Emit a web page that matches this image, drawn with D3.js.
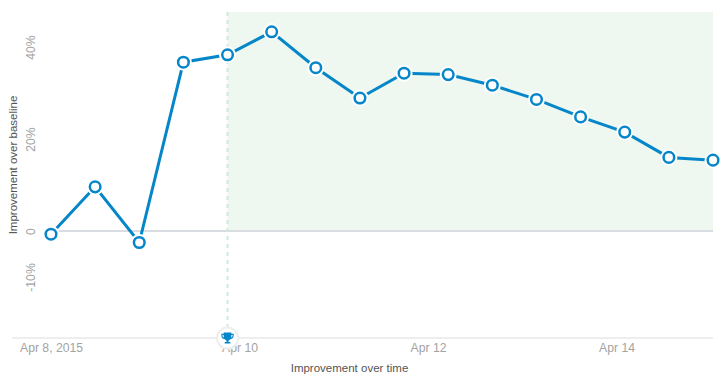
<!DOCTYPE html>
<html>
<head>
<meta charset="utf-8">
<script src="https://cdn.jsdelivr.net/npm/d3@7"></script>
<style>
  html, body { margin: 0; padding: 0; background: #fff; }
  svg { display: block; font-family: "Liberation Sans", Arial, sans-serif; }
  .axis path, .axis line { display: none; }
</style>
</head>
<body>
<div id="figure-holder"></div>
<script>
// one entry per run of the experiment
const runs = ["r1", "r2", "r3", "r4", "r5", "r6", "r7", "r8", "r9", "r10", "r11", "r12", "r13", "r14", "r15", "r16"]
const improvement = [-0.7, 9.6, -2.5, 36.7, 38.3, 43.3, 35.5, 28.9, 34.3, 34, 31.7, 28.6, 24.8, 21.5, 16, 15.4]
const xTicks = [new Date(2015, 3, 8), new Date(2015, 3, 10), new Date(2015, 3, 12), new Date(2015, 3, 14)]
const xTickLabels = ["Apr 8, 2015", "Apr 10", "Apr 12", "Apr 14"]
const yTicks = [40, 20, 0, -10]
const yTickLabels = ["40%", "20%", "0", "-10%"]
const winnerRun = "r5"

const width = 725, height = 387
const blue = "#0486c9"

const svg = d3.select('#figure-holder').append('svg')
    .attr('width', width)
    .attr('height', height)

const x = d3.scalePoint().domain(runs).range([51, 713])
const y = d3.scaleLinear().domain([-10, 40]).range([277, 47])
const xDates = d3.scaleTime().domain([xTicks[0], xTicks[3]]).range([51, 616.5])

const plotTop = 12, plotBottom = 338, plotRight = 713
const winnerX = x(winnerRun)

// green area after the winner was declared
svg.append("rect")
    .attr("x", winnerX)
    .attr("y", plotTop)
    .attr("width", plotRight - winnerX)
    .attr("height", y(0) - plotTop)
    .style("fill", "#eef8f0")

// zero line
svg.append("line")
    .attr("x1", x(runs[0]))
    .attr("x2", plotRight)
    .attr("y1", y(0))
    .attr("y2", y(0))
    .style("stroke", "#d9dde2")
    .style("stroke-width", 2)

// x baseline
svg.append("line")
    .attr("x1", 12)
    .attr("x2", plotRight)
    .attr("y1", plotBottom)
    .attr("y2", plotBottom)
    .style("stroke", "#eeeeee")
    .style("stroke-width", 2)

// dashed marker
svg.append("line")
    .attr("x1", winnerX)
    .attr("x2", winnerX)
    .attr("y1", plotTop)
    .attr("y2", plotBottom - 10)
    .style("stroke", "#cfe9da")
    .style("stroke-width", 2)
    .style("stroke-dasharray", "4 4")

// axes
const xAxis = svg.append("g")
    .attr("class", "axis")
    .attr("transform", `translate(0, ${plotBottom})`)
    .call(d3.axisBottom(xDates).tickValues(xTicks).tickFormat((d, i) => xTickLabels[i]).tickSize(0).tickPadding(5))
xAxis.selectAll("text")
    .style("font-size", "12.2px")
    .style("font-family", "inherit")
    .style("fill", "#a3a3a3")

const yAxis = svg.append("g")
    .attr("class", "axis")
    .attr("transform", "translate(31, 0)")
    .call(d3.axisLeft(y).tickValues(yTicks).tickFormat((d, i) => yTickLabels[i]).tickSize(0))
yAxis.selectAll(".tick text")
    .attr("x", 0)
    .attr("y", 0)
    .attr("dy", "0.32em")
    .attr("text-anchor", "middle")
    .attr("transform", "rotate(-90)")
    .style("font-size", "12.2px")
    .style("font-family", "inherit")
    .style("fill", "#a3a3a3")

// axis titles
svg.append("text")
    .attr("x", 349.5)
    .attr("y", 372)
    .attr("text-anchor", "middle")
    .style("font-size", "11.5px")
    .style("fill", "#555")
    .text("Improvement over time")

svg.append("text")
    .attr("transform", "translate(17, 165) rotate(-90)")
    .attr("text-anchor", "middle")
    .style("font-size", "11.5px")
    .style("fill", "#555")
    .text("Improvement over baseline")

// series line
const line = d3.line()
    .x((d, i) => x(runs[i]))
    .y(d => y(d))

svg.append("path")
    .datum(improvement)
    .attr("d", line)
    .style("fill", "none")
    .style("stroke", blue)
    .style("stroke-width", 3)

// points with a white halo
svg.selectAll("circle.halo")
    .data(improvement)
    .enter()
    .append("circle")
    .attr("class", "halo")
    .attr("cx", (d, i) => x(runs[i]))
    .attr("cy", d => y(d))
    .attr("r", 8.5)
    .style("fill", "#fff")

svg.selectAll("circle.point")
    .data(improvement)
    .enter()
    .append("circle")
    .attr("class", "point")
    .attr("cx", (d, i) => x(runs[i]))
    .attr("cy", d => y(d))
    .attr("r", 5.3)
    .style("fill", "#fff")
    .style("stroke", blue)
    .style("stroke-width", 2.5)

// trophy badge
const badge = svg.append("g").attr("transform", `translate(${winnerX}, ${plotBottom})`)
badge.append("circle")
    .attr("r", 10.5)
    .style("fill", "#fff")
    .style("stroke", "#eeeeee")
    .style("stroke-width", 2)
badge.append("path")
    .attr("transform", "scale(1.1)")
    .attr("d", "M-3.5,-5 H3.5 V-3.8 H5.6 V-2 C5.6,0 4,1 2.4,1.2 C1.8,2 1.2,2.3 0.9,2.5 V3.6 H2.6 V5 H-2.6 V3.6 H-0.9 V2.5 C-1.2,2.3 -1.8,2 -2.4,1.2 C-4,1 -5.6,0 -5.6,-2 V-3.8 H-3.5 Z M-3.5,-2.8 H-4.6 V-2 C-4.6,-1.2 -4,-0.6 -3.2,-0.3 C-3.4,-1 -3.5,-2 -3.5,-2.8 Z M3.5,-2.8 C3.5,-2 3.4,-1 3.2,-0.3 C4,-0.6 4.6,-1.2 4.6,-2 V-2.8 Z")
    .attr("fill-rule", "evenodd")
    .style("fill", blue)
</script>
</body>
</html>
